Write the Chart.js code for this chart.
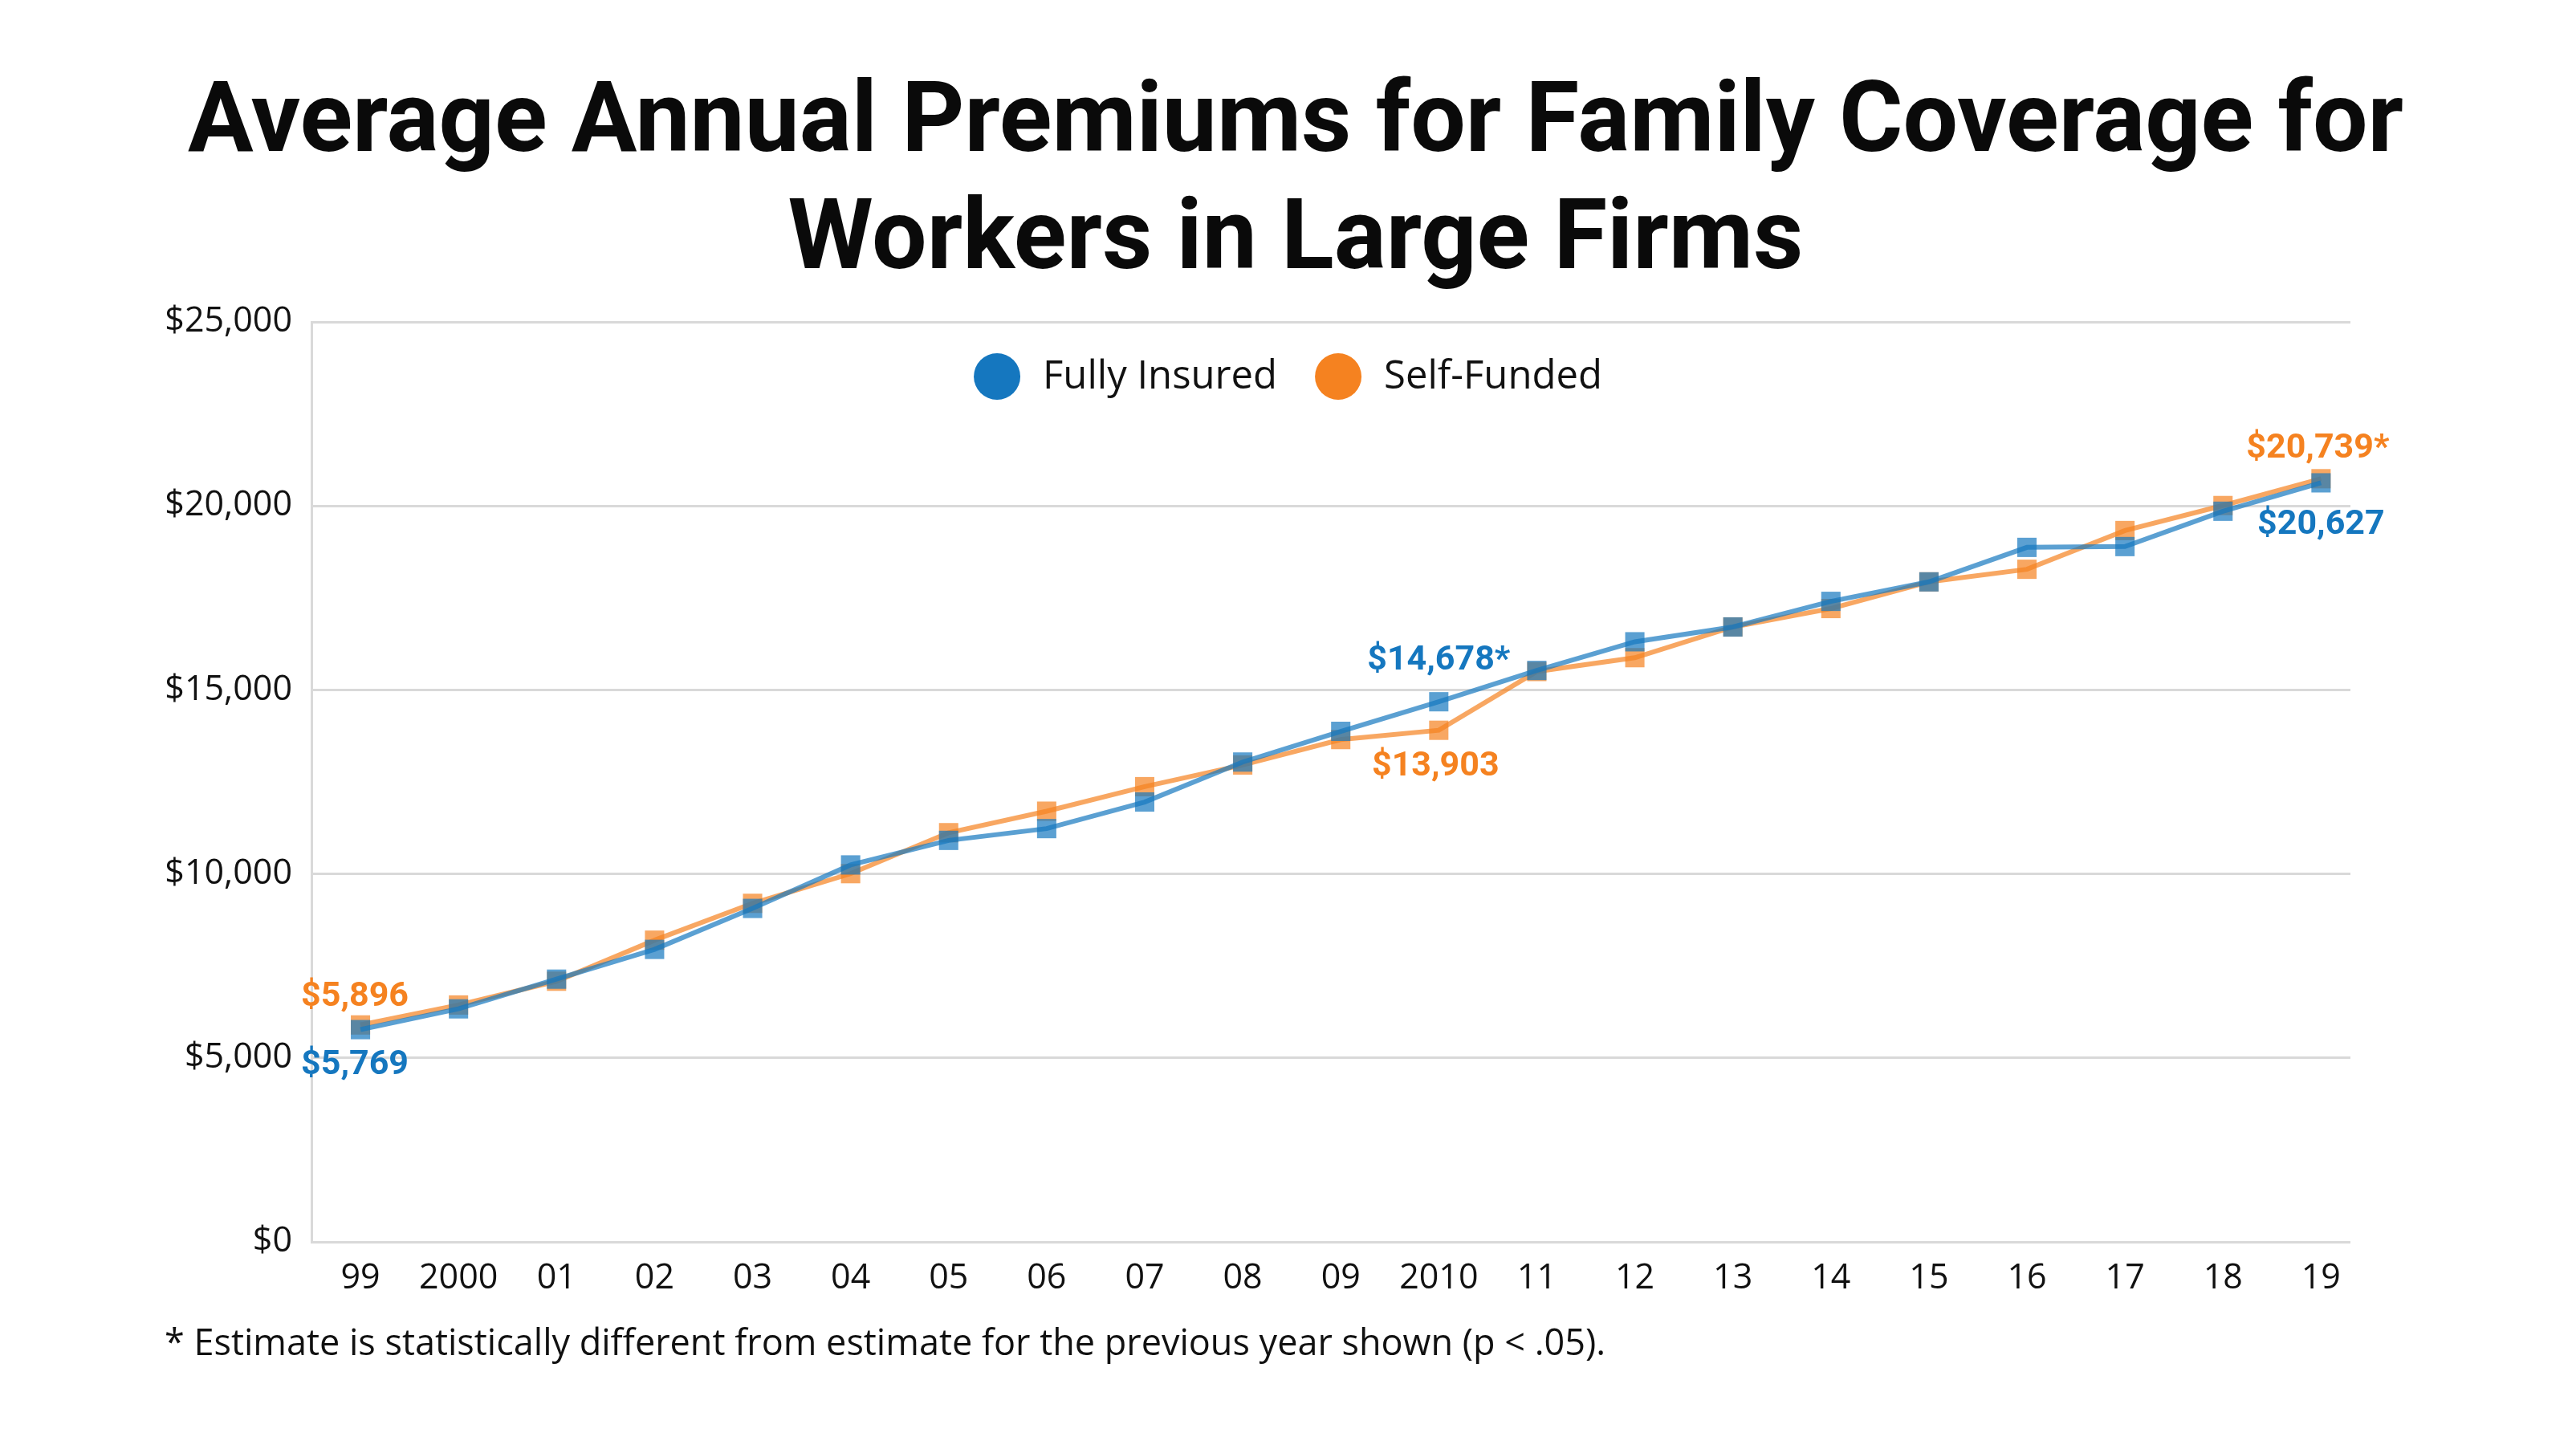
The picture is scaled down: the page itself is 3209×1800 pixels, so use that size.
<!DOCTYPE html>
<html>
<head>
<meta charset="utf-8">
<script src="https://cdn.jsdelivr.net/npm/chart.js@4.4.0/dist/chart.umd.min.js"></script>
<style>
html, body { margin: 0; padding: 0; background: #fff; overflow: hidden; }
#wrap { position: relative; width: 3209px; height: 1800px; }
#chart { position: absolute; left: 0; top: 0; }
#title {
    position: absolute; left: 0; top: 74px; width: 3209px; margin: 0;
    box-sizing: border-box; padding-left: 19px; text-align: center;
    font-family: Roboto; font-weight: 700; font-size: 121.5px; line-height: 146px;
    color: #0a0a0a;
}
#note {
    position: absolute; left: 205px; top: 1640px;
    font-family: "Open Sans"; font-size: 45px; line-height: 61px; color: #111;
}
</style>
</head>
<body>
<div id="wrap">
    <canvas id="chart" width="3209" height="1800"></canvas>
    <h1 id="title">Average Annual Premiums for Family Coverage for<br>Workers in Large Firms</h1>
    <div id="note">* Estimate is statistically different from estimate for the previous year shown (p &lt; .05).</div>
</div>
<script>
var years = ['99', '2000', '01', '02', '03', '04', '05', '06', '07', '08', '09',
             '2010', '11', '12', '13', '14', '15', '16', '17', '18', '19'];

var fullyInsured = [5769, 6333, 7140, 7949, 9062, 10244, 10911, 11231, 11954, 13040, 13874,
                    14678, 15529, 16308, 16711, 17406, 17936, 18873, 18895, 19855, 20627];

var selfFunded = [5896, 6438, 7084, 8199, 9200, 10007, 11120, 11704, 12371, 12960, 13651,
                  13903, 15500, 15876, 16711, 17211, 17936, 18278, 19331, 20010, 20739];

// years flagged with * (significant change)
var fullyStars = ['2010'];
var selfStars = ['19'];

var yTicks = [0, 5000, 10000, 15000, 20000, 25000];

var blue = 'rgb(21,119,191)';
var orange = 'rgb(245,130,32)';
var blueA = 'rgba(21,119,191,0.7)';
var orangeA = 'rgba(245,130,32,0.7)';

function money(v) {
    return '$' + v.toLocaleString('en-US');
}

// which points get a value callout, and where the text sits around the point
var callouts = [
    { ds: 0, year: '99', dx: -7, dy: 45 },
    { ds: 1, year: '99', dx: -7, dy: -34 },
    { ds: 0, year: '2010', dx: 0, dy: -51 },
    { ds: 1, year: '2010', dx: -4, dy: 46 },
    { ds: 1, year: '19', dx: -4, dy: -37 },
    { ds: 0, year: '19', dx: 0, dy: 53 }
];

var calloutPlugin = {
    id: 'callouts',
    afterDatasetsDraw: function(chart) {
        var c = chart.ctx;
        c.save();
        c.font = '700 43px Roboto';
        c.textAlign = 'center';
        c.textBaseline = 'middle';
        callouts.forEach(function(o) {
            var ds = chart.data.datasets[o.ds];
            var i = years.indexOf(o.year);
            var pt = chart.getDatasetMeta(o.ds).data[i];
            var stars = o.ds === 0 ? fullyStars : selfStars;
            var txt = money(ds.data[i].y) + (stars.indexOf(o.year) >= 0 ? '*' : '');
            c.fillStyle = ds.legendColor;
            c.fillText(txt, pt.x + o.dx, pt.y + o.dy);
        });
        c.restore();
    }
};

var legendPlugin = {
    id: 'innerLegend',
    afterDraw: function(chart) {
        var c = chart.ctx;
        var r = 29, gapText = 28, gapItem = 47;
        c.save();
        c.font = '49px "Open Sans"';
        c.textBaseline = 'middle';
        c.textAlign = 'left';
        var items = chart.data.datasets.map(function(d) {
            return { text: d.label, color: d.legendColor, w: c.measureText(d.label).width };
        });
        var total = 0;
        items.forEach(function(it, k) {
            total += 2 * r + gapText + it.w + (k > 0 ? gapItem : 0);
        });
        var x = chart.width / 2 - total / 2;
        var y = chart.chartArea.top + 68;
        items.forEach(function(it) {
            c.fillStyle = it.color;
            c.beginPath();
            c.arc(x + r, y, r, 0, Math.PI * 2);
            c.fill();
            c.fillStyle = '#111';
            c.fillText(it.text, x + 2 * r + gapText, y + 1);
            x += 2 * r + gapText + it.w + gapItem;
        });
        c.restore();
    }
};

function series(label, values, lineColor, solid) {
    return {
        label: label,
        data: values.map(function(v, i) { return { x: i, y: v }; }),
        borderColor: lineColor,
        backgroundColor: lineColor,
        pointBackgroundColor: lineColor,
        pointStyle: 'rect',
        pointRadius: 17,
        pointHoverRadius: 17,
        pointBorderWidth: 0,
        borderWidth: 6,
        tension: 0,
        legendColor: solid
    };
}

var ctx = document.getElementById('chart').getContext('2d');
var chart = new Chart(ctx, {
    type: 'line',
    data: {
        datasets: [
            series('Fully Insured', fullyInsured, blueA, blue),
            series('Self-Funded', selfFunded, orangeA, orange)
        ]
    },
    options: {
        responsive: false,
        devicePixelRatio: 1,
        animation: false,
        events: [],
        layout: { padding: { top: 401, right: 281, bottom: 153, left: 0 } },
        plugins: {
            legend: { display: false },
            tooltip: { enabled: false }
        },
        scales: {
            x: {
                type: 'linear',
                min: -0.5,
                max: 20.3,
                grid: { display: false },
                border: { display: false },
                afterBuildTicks: function(s) {
                    s.ticks = years.map(function(y, i) { return { value: i }; });
                },
                afterFit: function(s) { s.height = 100; },
                ticks: {
                    autoSkip: false,
                    maxRotation: 0,
                    padding: 12,
                    color: '#111',
                    font: { family: 'Open Sans', size: 43 },
                    callback: function(v) { return years[v]; }
                }
            },
            y: {
                min: 0,
                max: 25000,
                afterBuildTicks: function(s) {
                    s.ticks = yTicks.map(function(v) { return { value: v }; });
                },
                afterFit: function(s) { s.width = 388; },
                grid: { color: '#d9d9d9', lineWidth: 3, drawTicks: false },
                border: { display: true, color: '#d9d9d9', width: 3 },
                ticks: {
                    padding: 24,
                    color: '#111',
                    font: { family: 'Open Sans', size: 43 },
                    callback: function(v) { return money(v); }
                }
            }
        }
    },
    plugins: [calloutPlugin, legendPlugin]
});
</script>
</body>
</html>
